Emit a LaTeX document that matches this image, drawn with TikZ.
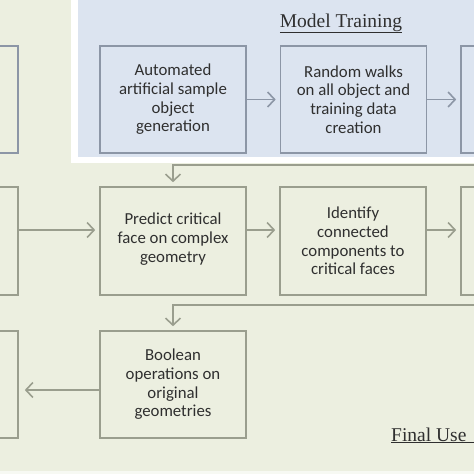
\documentclass[tikz,border=0pt]{standalone}
\usepackage{fontspec}
\setmainfont{Liberation Serif}
\newfontfamily\boxfont{Carlito}
\usetikzlibrary{arrows.meta}
\definecolor{bggreen}{HTML}{ECEFE0}
\definecolor{bgblue}{HTML}{DCE4F0}
\definecolor{edgeblue}{HTML}{8C96A6}
\definecolor{edgegreen}{HTML}{9A9E8E}
\definecolor{txt}{HTML}{2F2F2F}
\tikzset{
  procbox/.style={draw, line width=1.6pt, minimum width=146pt, minimum height=107pt,
    inner sep=2pt, align=center, text=txt,
    font=\boxfont\fontsize{16.8}{18.6}\selectfont},
  bluebox/.style={procbox, draw=edgeblue},
  greenbox/.style={procbox, draw=edgegreen},
  arr/.style={line width=1.6pt, -{Straight Barb[length=7pt,width=15pt,line width=1.6pt]}, shorten >=4pt},
  bluearr/.style={arr, draw=edgeblue},
  greenarr/.style={arr, draw=edgegreen},
  title/.style={text=txt, font=\fontsize{19.5}{21}\selectfont, inner sep=0pt}
}
\begin{document}
\begin{tikzpicture}[x=1pt,y=-1pt]
\useasboundingbox (0,0) rectangle (474,474);
\clip (0,0) rectangle (474,474);
% backgrounds
\fill[bggreen] (0,0) rectangle (474,474);
\fill[white!60!bggreen] (0,471) rectangle (474,474);
\fill[white] (71,-5) rectangle (480,163);
\fill[bgblue] (78,-5) rectangle (480,157);
% title
\node[title, anchor=base] (mt) at (341,27) {\underline{Model Training}};
% top row
\node[bluebox] (tl) at (-55,99.5) {};
\node[bluebox] (a1) at (173,99.5) {Automated\\artificial sample\\object\\generation};
\node[bluebox] (a2) at (353.5,99.5) {Random walks\\on all object and\\training data\\creation};
\node[bluebox] (a3) at (534,99.5) {};
\draw[bluearr] (a1.east) -- (a2.west);
\draw[bluearr] (a2.east) -- (a3.west);
% middle row
\node[greenbox, minimum height=108pt] (ml) at (-55,241) {};
\node[greenbox, minimum height=108pt] (pr) at (173,241) {Predict critical\\face on complex\\geometry\\[-12pt]};
\node[greenbox, minimum height=108pt] (id) at (353,241) {Identify\\connected\\components to\\critical faces};
\node[greenbox, minimum height=108pt] (mr) at (534,241) {};
\coordinate (y1) at (0,230);
\draw[greenarr] (ml.east |- y1) -- (pr.west |- y1);
\draw[greenarr] (pr.east |- y1) -- (id.west |- y1);
\draw[greenarr] (id.east |- y1) -- (mr.west |- y1);
\coordinate (c1) at (490,165);
\draw[greenarr] (c1) -| (pr.north);
% bottom row
\node[greenbox] (bl) at (-55,384.5) {};
\node[greenbox] (bo) at (173,384.5) {Boolean\\operations on\\original\\geometries};
\coordinate (y2) at (0,390);
\draw[greenarr, shorten >=6pt] (bo.west |- y2) -- (bl.east |- y2);
\coordinate (c2) at (490,305);
\draw[greenarr] (c2) -| (bo.north);
% final use title
\node[title, anchor=base west] (fu) at (391,441) {\underline{Final Use\hspace{30pt}}};
\end{tikzpicture}
\end{document}
